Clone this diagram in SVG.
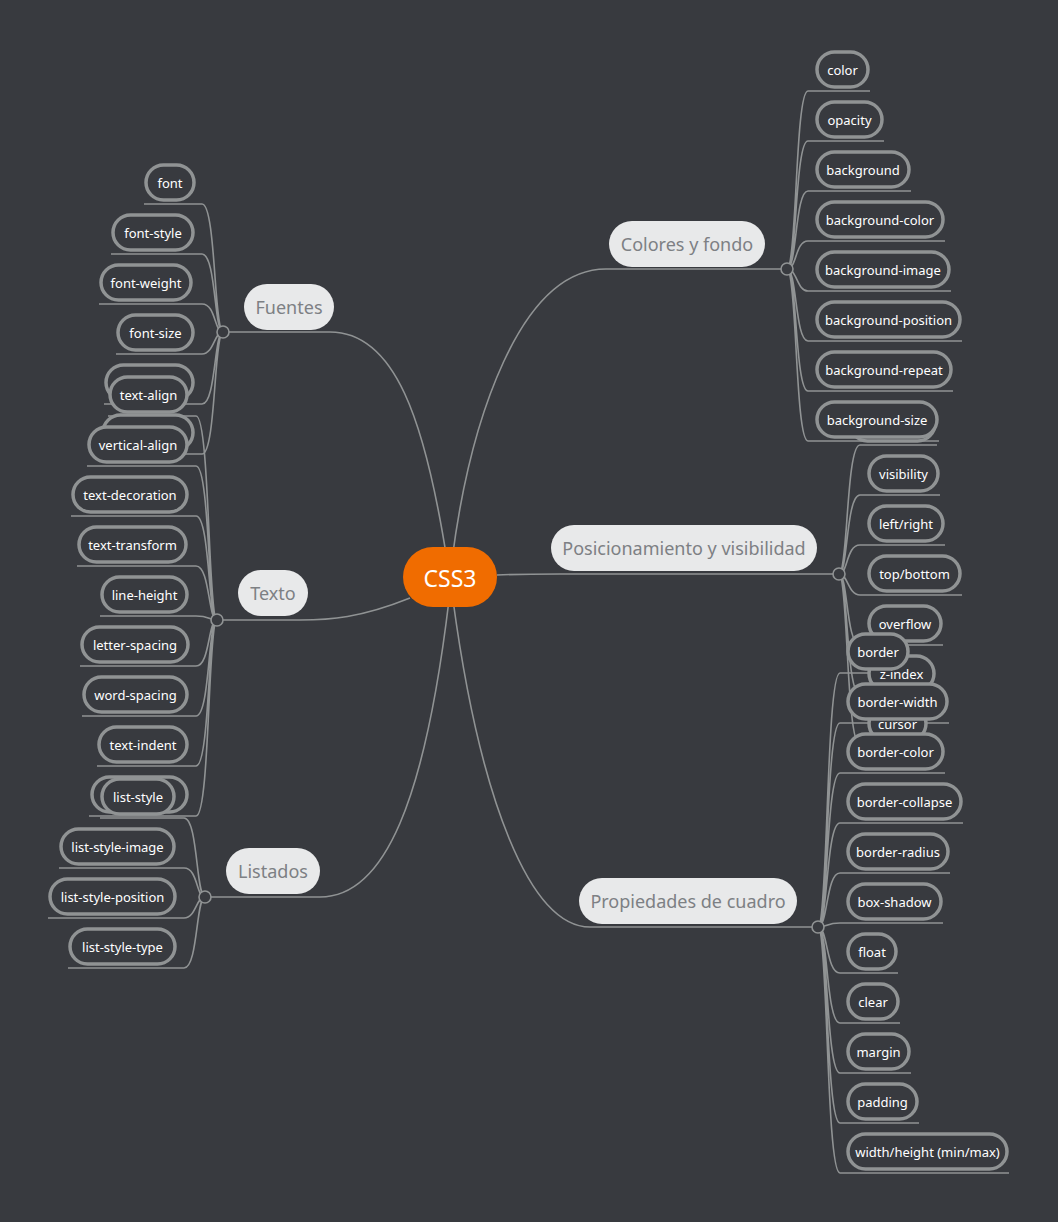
<svg xmlns="http://www.w3.org/2000/svg" width="1058" height="1222" viewBox="0 0 1058 1222">
<style>
.c{fill:none;stroke:#909394;stroke-width:1.6}
.h{fill:#383a3f;stroke:#909394;stroke-width:1.6}
.l rect{fill:#383a3f;stroke:#909394;stroke-width:3.5}
.l text{fill:#fff;font:13px "Noto Sans","Open Sans",sans-serif;text-anchor:middle;dominant-baseline:central}
.b rect{fill:#e8e9ea}
.b text{fill:#7d8084;font:18px "Noto Sans","Open Sans",sans-serif;text-anchor:middle;dominant-baseline:central}
</style>
<rect width="1058" height="1222" fill="#383a3f"/>
<g id="connectors">
<path class="c" d="M452 560 C470 420 520 269 606 269 L781 269"/>
<path class="c" d="M447 560 C425 420 395 332 330 332 L229 332"/>
<path class="c" d="M410 598 C360 618 330 620 300 620 L223 620"/>
<path class="c" d="M449 600 C425 800 385 897 320 897 L211 897"/>
<path class="c" d="M497 575 C520 574 540 574 560 574 L833 574"/>
<path class="c" d="M453 600 C480 800 530 927 590 927 L812 927"/>
<g id="rc"></g>
<path class="c" d="M787 269 C797 269 795 91 808 91 L870 91 M787 269 C797 269 795 141 808 141 L884 141 M787 269 C797 269 795 191 808 191 L911 191 M787 269 C797 269 795 241 808 241 L945 241 M787 269 C797 269 797 291 808 291 L951 291 M787 269 C797 269 795 341 808 341 L962 341 M787 269 C797 269 795 391 808 391 L953 391 M787 269 C797 269 795 441 808 441 L939 441"/>
<path class="c" d="M839 574 C848 574 846 445 860 445 L937 445 M839 574 C848 574 846 495 860 495 L940 495 M839 574 C848 574 846 545 860 545 L945 545 M839 574 C848 574 848 595 860 595 L962 595 M839 574 C848 574 846 645 860 645 L943 645 M839 574 C848 574 846 695 860 695 L936 695 M839 574 C848 574 846 745 860 745 L928 745"/>
<path class="c" d="M818 927 C828 927 826 673 840 673 L910 673 M818 927 C828 927 826 723 840 723 L949 723 M818 927 C828 927 826 773 840 773 L945 773 M818 927 C828 927 826 823 840 823 L963 823 M818 927 C828 927 826 873 840 873 L950 873 M818 927 C828 927 826 923 840 923 L943 923 M818 927 C828 927 826 973 840 973 L898 973 M818 927 C828 927 826 1023 840 1023 L900 1023 M818 927 C828 927 826 1073 840 1073 L911 1073 M818 927 C828 927 826 1123 840 1123 L919 1123 M818 927 C828 927 826 1173 840 1173 L1009 1173"/>
<path class="c" d="M223 332 C214 332 216 204 202 204 L144 204 M223 332 C214 332 216 254 202 254 L111 254 M223 332 C214 332 216 304 202 304 L99 304 M223 332 C214 332 214 354 202 354 L116 354 M223 332 C214 332 216 404 202 404 L104 404 M223 332 C214 332 216 454 202 454 L101 454"/>
<path class="c" d="M217 620 C208 620 210 416 196 416 L108 416 M217 620 C208 620 210 466 196 466 L87 466 M217 620 C208 620 210 516 196 516 L71 516 M217 620 C208 620 210 566 196 566 L77 566 M217 620 C208 620 210 616 196 616 L100 616 M217 620 C208 620 210 666 196 666 L80 666 M217 620 C208 620 210 716 196 716 L82 716 M217 620 C208 620 210 766 196 766 L97 766 M217 620 C208 620 210 816 196 816 L89 816"/>
<path class="c" d="M205 897 C196 897 198 818 184 818 L100 818 M205 897 C196 897 198 868 184 868 L59 868 M205 897 C196 897 196 918 184 918 L48 918 M205 897 C196 897 198 968 184 968 L68 968"/>
<circle class="h" cx="787" cy="269" r="6"/><circle class="h" cx="839" cy="574" r="6"/><circle class="h" cx="818" cy="927" r="6"/>
<circle class="h" cx="223" cy="332" r="6"/><circle class="h" cx="217" cy="620" r="6"/><circle class="h" cx="205" cy="897" r="6"/>
</g>
<g id="css3"><rect x="403" y="547" width="94" height="60" rx="30" fill="#f06c00"/><text x="450" y="578" fill="#fff" font-family="Noto Sans,sans-serif" font-size="23" text-anchor="middle" dominant-baseline="central">CSS3</text></g>
<g class="b">
<g id="colores"><rect x="609" y="221" width="156" height="46" rx="23"/><text x="687" y="244">Colores y fondo</text></g>
<g id="fuentes"><rect x="244" y="284" width="90" height="46" rx="23"/><text x="289" y="307">Fuentes</text></g>
<g id="texto"><rect x="238" y="570" width="70" height="46" rx="23"/><text x="273" y="593">Texto</text></g>
<g id="listados"><rect x="226" y="848" width="94" height="46" rx="23"/><text x="273" y="871">Listados</text></g>
<g id="posicion"><rect x="551" y="525" width="266" height="46" rx="23"/><text x="684" y="548">Posicionamiento y visibilidad</text></g>
<g id="propiedades"><rect x="579" y="878" width="218" height="46" rx="23"/><text x="688" y="901">Propiedades de cuadro</text></g>
</g>
<g class="l">
<g id="n-color"><rect x="817" y="52" width="51" height="35" rx="17.5"/><text x="842.5" y="69.5">color</text></g>
<g id="n-opacity"><rect x="817" y="102" width="65" height="35" rx="17.5"/><text x="849.5" y="119.5">opacity</text></g>
<g id="n-background"><rect x="817" y="152" width="92" height="35" rx="17.5"/><text x="863" y="169.5">background</text></g>
<g id="n-bgc"><rect x="817" y="202" width="126" height="35" rx="17.5"/><text x="880" y="219.5">background-color</text></g>
<g id="n-bgi"><rect x="817" y="252" width="132" height="35" rx="17.5"/><text x="883" y="269.5">background-image</text></g>
<g id="n-bgp"><rect x="817" y="302" width="143" height="35" rx="17.5"/><text x="888.5" y="319.5">background-position</text></g>
<g id="n-bgr"><rect x="817" y="352" width="134" height="35" rx="17.5"/><text x="884" y="369.5">background-repeat</text></g>
<g id="n-pos-hidden"><rect x="850" y="406" width="85" height="35" rx="17.5"/></g>
<g id="n-bgs"><rect x="817" y="402" width="120" height="35" rx="17.5"/><text x="877" y="419.5">background-size</text></g>
<g id="n-visibility"><rect x="869" y="456" width="69" height="35" rx="17.5"/><text x="903.5" y="473.5">visibility</text></g>
<g id="n-leftright"><rect x="869" y="506" width="74" height="35" rx="17.5"/><text x="906" y="523.5">left/right</text></g>
<g id="n-topbottom"><rect x="869" y="556" width="91" height="35" rx="17.5"/><text x="914.5" y="573.5">top/bottom</text></g>
<g id="n-overflow"><rect x="869" y="606" width="72" height="35" rx="17.5"/><text x="905" y="623.5">overflow</text></g>
<g id="n-zindex"><rect x="869" y="656" width="65" height="35" rx="17.5"/><text x="901.5" y="673.5">z-index</text></g>
<g id="n-cursor"><rect x="869" y="706" width="57" height="35" rx="17.5"/><text x="897.5" y="723.5">cursor</text></g>
<g id="n-border"><rect x="848" y="634" width="60" height="35" rx="17.5"/><text x="878" y="651.5">border</text></g>
<g id="n-bw"><rect x="848" y="684" width="99" height="35" rx="17.5"/><text x="897.5" y="701.5">border-width</text></g>
<g id="n-bc"><rect x="848" y="734" width="95" height="35" rx="17.5"/><text x="895.5" y="751.5">border-color</text></g>
<g id="n-bcol"><rect x="848" y="784" width="113" height="35" rx="17.5"/><text x="904.5" y="801.5">border-collapse</text></g>
<g id="n-br"><rect x="848" y="834" width="100" height="35" rx="17.5"/><text x="898" y="851.5">border-radius</text></g>
<g id="n-bs"><rect x="848" y="884" width="93" height="35" rx="17.5"/><text x="894.5" y="901.5">box-shadow</text></g>
<g id="n-float"><rect x="848" y="934" width="48" height="35" rx="17.5"/><text x="872" y="951.5">float</text></g>
<g id="n-clear"><rect x="848" y="984" width="50" height="35" rx="17.5"/><text x="873" y="1001.5">clear</text></g>
<g id="n-margin"><rect x="848" y="1034" width="61" height="35" rx="17.5"/><text x="878.5" y="1051.5">margin</text></g>
<g id="n-padding"><rect x="848" y="1084" width="69" height="35" rx="17.5"/><text x="882.5" y="1101.5">padding</text></g>
<g id="n-wh"><rect x="848" y="1134" width="159" height="35" rx="17.5"/><text x="927.5" y="1151.5">width/height (min/max)</text></g>
<g id="n-font"><rect x="146" y="165" width="48" height="35" rx="17.5"/><text x="170" y="182.5">font</text></g>
<g id="n-fstyle"><rect x="113" y="215" width="80" height="35" rx="17.5"/><text x="153" y="232.5">font-style</text></g>
<g id="n-fweight"><rect x="101" y="265" width="90" height="35" rx="17.5"/><text x="146" y="282.5">font-weight</text></g>
<g id="n-fsize"><rect x="118" y="315" width="75" height="35" rx="17.5"/><text x="155.5" y="332.5">font-size</text></g>
<g id="n-f-hidden1"><rect x="106" y="365" width="87" height="35" rx="17.5"/></g>
<g id="n-f-hidden2"><rect x="103" y="415" width="90" height="35" rx="17.5"/></g>
<g id="n-talign"><rect x="110" y="377" width="77" height="35" rx="17.5"/><text x="148.5" y="394.5">text-align</text></g>
<g id="n-valign"><rect x="89" y="427" width="98" height="35" rx="17.5"/><text x="138" y="444.5">vertical-align</text></g>
<g id="n-tdec"><rect x="73" y="477" width="114" height="35" rx="17.5"/><text x="130" y="494.5">text-decoration</text></g>
<g id="n-ttrans"><rect x="79" y="527" width="107" height="35" rx="17.5"/><text x="132.5" y="544.5">text-transform</text></g>
<g id="n-lh"><rect x="102" y="577" width="85" height="35" rx="17.5"/><text x="144.5" y="594.5">line-height</text></g>
<g id="n-ls"><rect x="82" y="627" width="106" height="35" rx="17.5"/><text x="135" y="644.5">letter-spacing</text></g>
<g id="n-ws"><rect x="84" y="677" width="103" height="35" rx="17.5"/><text x="135.5" y="694.5">word-spacing</text></g>
<g id="n-ti"><rect x="99" y="727" width="88" height="35" rx="17.5"/><text x="143" y="744.5">text-indent</text></g>
<g id="n-t-hidden"><rect x="92" y="777" width="95" height="35" rx="17.5"/></g>
<g id="n-lstyle"><rect x="102" y="779" width="72" height="35" rx="17.5"/><text x="138" y="796.5">list-style</text></g>
<g id="n-lsi"><rect x="61" y="829" width="113" height="35" rx="17.5"/><text x="117.5" y="846.5">list-style-image</text></g>
<g id="n-lsp"><rect x="50" y="879" width="125" height="35" rx="17.5"/><text x="112.5" y="896.5">list-style-position</text></g>
<g id="n-lst"><rect x="70" y="929" width="105" height="35" rx="17.5"/><text x="122.5" y="946.5">list-style-type</text></g>
</g>
</svg>
